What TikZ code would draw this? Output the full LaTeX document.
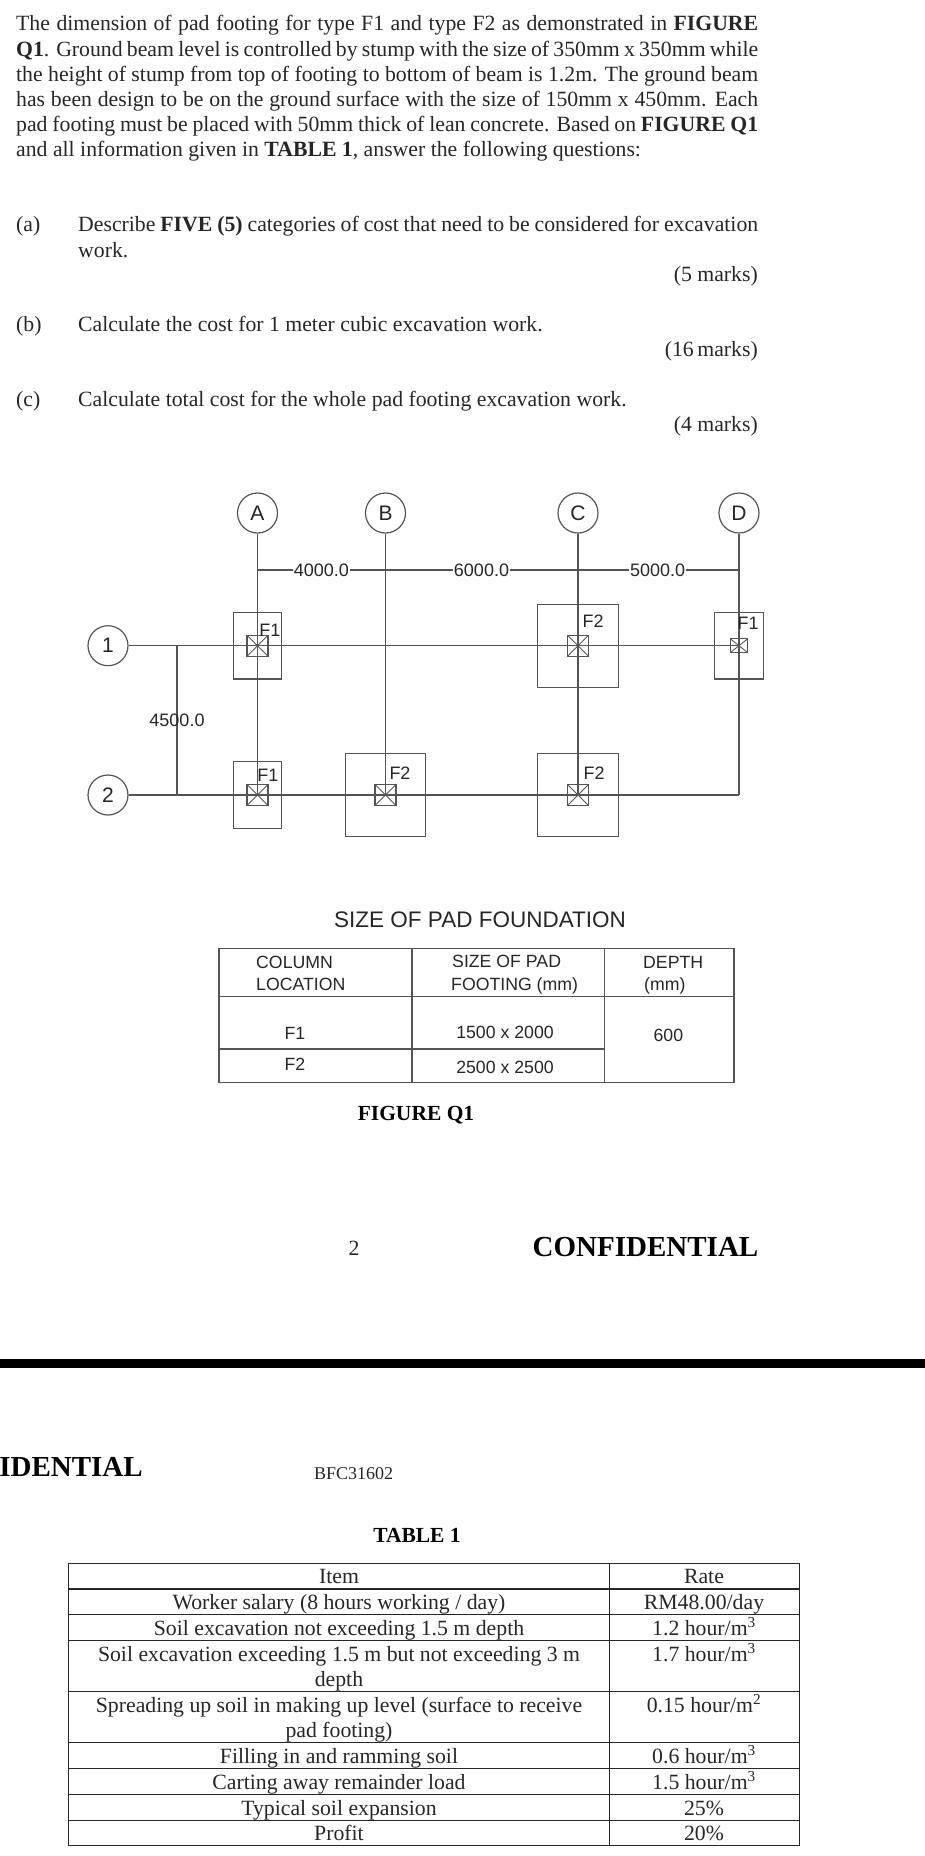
\documentclass[tikz,border=0pt]{standalone}
\usepackage{fontspec}
\setmainfont{Liberation Serif}
\newfontfamily\drawingfont{Liberation Sans}
\definecolor{inkgray}{gray}{0.15}
\definecolor{linegray}{gray}{0.33}
\tikzset{
	bodytext/.style = {inner sep=0, anchor=north west, align=justify, text=inkgray, font=\fontsize{21.75}{25.2}\selectfont},
	plaintext/.style = {inner sep=0, anchor=base west, text=inkgray, font=\fontsize{21.75}{25.2}\selectfont},
	markstext/.style = {plaintext, anchor=base east},
	celltext/.style = {plaintext, anchor=base},
	headtext/.style = {inner sep=0, anchor=base, text=black, font=\fontsize{29}{32}\selectfont\bfseries},
	gridmark/.style = {draw=linegray, line width=1.2pt, circle, minimum size=40pt, inner sep=0, text=inkgray, font=\drawingfont\fontsize{21}{23}\selectfont},
	gridline/.style = {draw=linegray, line width=1.3pt},
	padone/.style = {draw=linegray, line width=1.2pt, minimum width=48.5pt, minimum height=66.5pt, inner sep=0},
	padtwo/.style = {draw=linegray, line width=1.2pt, minimum width=80.5pt, minimum height=83pt, inner sep=0},
	stump/.style = {draw=linegray, line width=1.2pt, minimum width=21pt, minimum height=21pt, inner sep=0,
		path picture={\draw [linegray, line width=0.9pt] (path picture bounding box.north west) -- (path picture bounding box.south east)
			(path picture bounding box.north east) -- (path picture bounding box.south west);}},
	drawtext/.style = {inner sep=1pt, text=inkgray, font=\drawingfont\fontsize{18}{20}\selectfont},
	sizetext/.style = {inner sep=0, anchor=base west, text=inkgray, font=\drawingfont\fontsize{17.7}{20}\selectfont},
	sizecell/.style = {sizetext, anchor=base},
	tablerule/.style = {draw=linegray, line width=1.5pt},
	ratetable/.style = {draw=inkgray, line width=1.1pt},
}
\begin{document}
\begin{tikzpicture}[x=1pt,y=-1pt]
	\useasboundingbox (0,0) rectangle (925,1856);

	\node [bodytext, text width=742pt] (intro) at (16,13.06) {\strut The dimension of pad footing for type F1 and type F2 as demonstrated in \textbf{FIGURE}\linebreak \textbf{Q1}. Ground beam level is controlled by stump with the size of 350mm x 350mm while\linebreak the height of stump from top of footing to bottom of beam is 1.2m. The ground beam\linebreak has been design to be on the ground surface with the size of 150mm x 450mm. Each\linebreak pad footing must be placed with 50mm thick of lean concrete. Based on \textbf{FIGURE Q1}\linebreak and all information given in \textbf{TABLE 1}, answer the following questions:};

	\node [plaintext] (parta) at (16,231.7) {(a)};
	\node [bodytext, text width=680pt] (texta) at (78,214.06) {\strut Describe \textbf{FIVE (5)} categories of cost that need to be considered for excavation\linebreak work.};
	\node [markstext] (marksa) at (758,281.7) {(5 marks)};
	\node [plaintext] (partb) at (16,331.7) {(b)};
	\node [plaintext] (textb) at (78,331.7) {Calculate the cost for 1 meter cubic excavation work.};
	\node [markstext] (marksb) at (758,356.7) {(16\,marks)};
	\node [plaintext] (partc) at (16,406.7) {(c)};
	\node [plaintext] (textc) at (78,406.7) {Calculate total cost for the whole pad footing excavation work.};
	\node [markstext] (marksc) at (758,431.7) {(4 marks)};

	\node [gridmark] (gridA) at (257.5,513) {A};
	\node [gridmark] (gridB) at (385.5,513) {B};
	\node [gridmark] (gridC) at (578,513) {C};
	\node [gridmark] (gridD) at (739,513) {D};
	\node [gridmark] (grid1) at (108,645.7) {1};
	\node [gridmark] (grid2) at (108,795) {2};

	\draw [gridline] (gridA) -- (gridA |- grid2);
	\draw [gridline] (gridB) -- (gridB |- grid2);
	\draw [gridline] (gridC) -- (gridC |- grid2);
	\draw [gridline] (gridD) -- (gridD |- grid2);
	\draw [gridline] (grid1) -- (gridD |- grid1);
	\draw [gridline] (grid2) -- (gridD |- grid2);

	\node [padone] (padA1) at (gridA |- grid1) {};
	\node [padtwo] (padC1) at (gridC |- grid1) {};
	\node [padone] (padD1) at (gridD |- grid1) {};
	\node [padone] (padA2) at (gridA |- grid2) {};
	\node [padtwo] (padB2) at (gridB |- grid2) {};
	\node [padtwo] (padC2) at (gridC |- grid2) {};

	\node [stump] (stumpA1) at (gridA |- grid1) {};
	\node [stump] (stumpC1) at (gridC |- grid1) {};
	\node [stump, minimum width=17.5pt, minimum height=14pt] (stumpD1) at (gridD |- grid1) {};
	\node [stump] (stumpA2) at (gridA |- grid2) {};
	\node [stump] (stumpB2) at (gridB |- grid2) {};
	\node [stump] (stumpC2) at (gridC |- grid2) {};

	\node [drawtext] (labelA1) at (270,630.7) {F1};
	\node [drawtext] (labelC1) at (593,621.7) {F2};
	\node [drawtext] (labelD1) at (748,623) {F1};
	\node [drawtext] (labelA2) at (268,775.7) {F1};
	\node [drawtext] (labelB2) at (400,773) {F2};
	\node [drawtext] (labelC2) at (594,773) {F2};

	\coordinate (dimA) at (257.5,570);
	\coordinate (dimD) at (739,570);
	\node [drawtext] (dimAB) at (321.3,570) {4000.0};
	\node [drawtext] (dimBC) at (481.5,570) {6000.0};
	\node [drawtext] (dimCD) at (657.7,570) {5000.0};
	\draw [gridline] (dimA) -- (dimAB) -- (dimBC) -- (dimCD) -- (dimD);

	\coordinate (dim1) at (177,645.7);
	\coordinate (dim2) at (177,795);
	\draw [gridline] (dim1) -- (dim2);
	\node [drawtext] (dim12) at (177,720.7) {4500.0};

	\node [drawtext, font=\drawingfont\fontsize{22.5}{24}\selectfont] (sizetitle) at (480,920) {SIZE OF PAD FOUNDATION};
	\draw [tablerule] (219,948.7) rectangle (734,1082.7);
	\draw [tablerule] (412,948.7) -- (412,1082.7);
	\draw [tablerule] (604.5,948.7) -- (604.5,1082.7);
	\draw [tablerule] (219,996.7) -- (734,996.7);
	\draw [tablerule] (219,1049) -- (604.5,1049);
	\node [sizetext] (headcol) at (256,968) {COLUMN};
	\node [sizetext] (headloc) at (256,990.5) {LOCATION};
	\node [sizetext] (headsize) at (452,967.5) {SIZE OF PAD};
	\node [sizetext] (headfoot) at (451,990) {FOOTING (mm)};
	\node [sizetext] (headdepth) at (643,968) {DEPTH};
	\node [sizetext] (headmm) at (644,990.5) {(mm)};
	\node [sizecell] (cellF1) at (295,1039) {F1};
	\node [sizecell] (cellF2) at (295,1070.5) {F2};
	\node [sizecell] (cellone) at (505,1038.5) {1500 x 2000};
	\node [sizecell] (celltwo) at (505,1073) {2500 x 2500};
	\node [sizecell] (celldepth) at (668.4,1041.5) {600};
	\node [headtext, font=\fontsize{21.5}{24}\selectfont\bfseries] (figtitle) at (416,1120) {FIGURE Q1};

	\node [celltext] (pageno) at (354,1255) {2};
	\node [headtext, anchor=base east] (conftop) at (758.5,1256) {CONFIDENTIAL};
	\fill [black] (0,1359.3) rectangle (925,1368.3);
	\node [headtext, anchor=base east] (confbottom) at (143,1476.7) {IDENTIAL};
	\node [plaintext, font=\fontsize{18}{20}\selectfont] (docno) at (314,1479) {BFC31602};

	\node [headtext, font=\fontsize{21.5}{24}\selectfont\bfseries] (tabletitle) at (417,1542) {TABLE 1};
	\draw [ratetable] (68.9,1563.7) rectangle (799.5,1845.7);
	\draw [ratetable] (609.2,1563.7) -- (609.2,1845.7);
	\draw [ratetable] (68.9,1589) -- (799.5,1589);
	\draw [ratetable] (68.9,1614.7) -- (799.5,1614.7);
	\draw [ratetable] (68.9,1640.3) -- (799.5,1640.3);
	\draw [ratetable] (68.9,1691.7) -- (799.5,1691.7);
	\draw [ratetable] (68.9,1742.7) -- (799.5,1742.7);
	\draw [ratetable] (68.9,1768.7) -- (799.5,1768.7);
	\draw [ratetable] (68.9,1794.7) -- (799.5,1794.7);
	\draw [ratetable] (68.9,1820.7) -- (799.5,1820.7);

	\node [celltext] (item) at (339,1583.5) {Item};
	\node [celltext] (rate) at (704,1583.5) {Rate};
	\node [celltext] (itemsalary) at (339,1609) {Worker salary (8 hours working / day)};
	\node [celltext] (ratesalary) at (704,1609) {RM48.00/day};
	\node [celltext] (itemshallow) at (339,1635) {Soil excavation not exceeding 1.5 m depth};
	\node [celltext] (rateshallow) at (704,1635) {1.2 hour/m\textsuperscript{3}};
	\node [celltext] (itemdeep) at (339,1661) {Soil excavation exceeding 1.5 m but not exceeding 3 m};
	\node [celltext] (itemdeepb) at (339,1686) {depth};
	\node [celltext] (ratedeep) at (704,1661) {1.7 hour/m\textsuperscript{3}};
	\node [celltext] (itemlevel) at (339,1712) {Spreading up soil in making up level (surface to receive};
	\node [celltext] (itemlevelb) at (339,1737) {pad footing)};
	\node [celltext] (ratelevel) at (704,1712) {0.15 hour/m\textsuperscript{2}};
	\node [celltext] (itemfill) at (339,1763) {Filling in and ramming soil};
	\node [celltext] (ratefill) at (704,1763) {0.6 hour/m\textsuperscript{3}};
	\node [celltext] (itemcart) at (339,1789) {Carting away remainder load};
	\node [celltext] (ratecart) at (704,1789) {1.5 hour/m\textsuperscript{3}};
	\node [celltext] (itemswell) at (339,1815) {Typical soil expansion};
	\node [celltext] (rateswell) at (704,1815) {25\%};
	\node [celltext] (itemprofit) at (339,1840) {Profit};
	\node [celltext] (rateprofit) at (704,1840) {20\%};
\end{tikzpicture}
\end{document}
